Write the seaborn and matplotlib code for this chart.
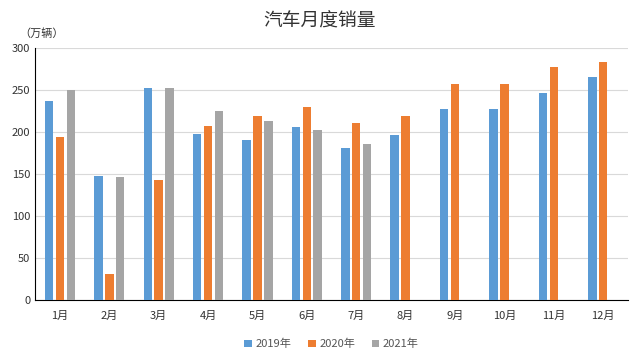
import matplotlib
matplotlib.use('Agg')
import matplotlib.pyplot as plt
import numpy as np
import pandas as pd
import seaborn as sns

months = ['1月', '2月', '3月', '4月', '5月', '6月', '7月', '8月', '9月', '10月', '11月', '12月']
years = ['2019年', '2020年', '2021年']
sales_2019 = [237, 148, 252, 198, 191, 206, 181, 196, 227, 228, 246, 266]
sales_2020 = [194, 31, 143, 207, 219, 230, 211, 219, 257, 257, 277, 283]
sales_2021 = [250, 146, 253, 225, 213, 202, 186, np.nan, np.nan, np.nan, np.nan, np.nan]
colors = ['#5B9BD5', '#ED7D31', '#A5A5A5']

df = pd.DataFrame({'月份': months * 3,
                   '年份': np.repeat(years, len(months)),
                   '销量': sales_2019 + sales_2020 + sales_2021})

sns.set_style('white')
plt.rcParams['font.family'] = ['Noto Sans CJK SC', 'DejaVu Sans']

fig = plt.figure(figsize=(6.4, 3.56), dpi=100)
ax = fig.add_axes([0.055, 0.157, 0.926, 0.708])

sns.barplot(data=df, x='月份', y='销量', hue='年份', order=months, hue_order=years,
            palette=colors, saturation=1, width=0.66, gap=0.22, linewidth=0,
            ax=ax, zorder=3)

ax.set_xlim(-0.5, 11.5)
ax.set_ylim(0, 300)
ax.set_yticks(range(0, 301, 50))
ax.yaxis.grid(True, color='#d9d9d9', linewidth=0.8, zorder=0)
ax.set_axisbelow(True)
for s in ['top', 'right']:
    ax.spines[s].set_visible(False)
ax.spines['left'].set_color('black')
ax.spines['bottom'].set_color('black')
ax.tick_params(axis='both', labelsize=8, length=0, colors='#333333')
ax.tick_params(axis='x', pad=8)
ax.set_xlabel('')
ax.set_ylabel('')

fig.text(0.5, 0.94, '汽车月度销量', ha='center', va='center', fontsize=13.5, color='#333333')
fig.text(0.03, 0.905, '（万辆）', ha='left', va='center', fontsize=8, color='#333333')

ax.legend(loc='center', bbox_to_anchor=(0.5, -0.175), ncol=3, frameon=False,
          fontsize=8, handlelength=0.7, handleheight=0.7, handletextpad=0.3,
          columnspacing=1.5, labelcolor='#555555')

fig.savefig('out.png', dpi=100)
